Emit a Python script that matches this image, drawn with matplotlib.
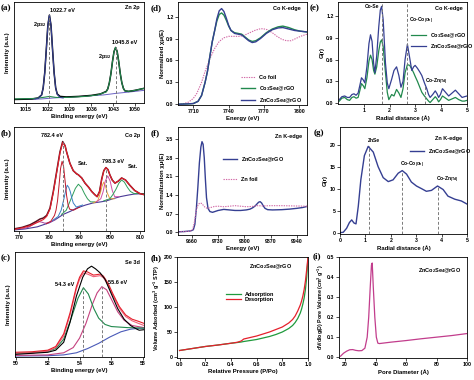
import matplotlib
matplotlib.use('Agg')
import matplotlib.pyplot as plt

plt.rcParams['font.family'] = ['Liberation Sans', 'DejaVu Sans']
plt.rcParams['font.weight'] = 'bold'
plt.rcParams['axes.labelweight'] = 'bold'
plt.rcParams['mathtext.fontset'] = 'custom'
plt.rcParams['mathtext.rm'] = 'Liberation Sans:bold'
plt.rcParams['mathtext.it'] = 'Liberation Sans:bold:italic'
plt.rcParams['mathtext.bf'] = 'Liberation Sans:bold'
plt.rcParams['mathtext.default'] = 'rm'
plt.rcParams['axes.linewidth'] = 0.6

# ---- (a) Zn 2p XPS ----
a_x = [1011.3, 1014, 1017, 1019, 1020.1, 1020.6, 1021.1, 1021.6, 1022.1, 1022.6, 1023.1,
       1023.6, 1024.1, 1024.6, 1025.1, 1026, 1028, 1032, 1036, 1039, 1040.8, 1041.3,
       1041.8, 1042.3, 1042.8, 1043.3, 1043.8, 1044.3, 1044.8, 1045.3, 1045.8, 1046.3,
       1046.8, 1048, 1050, 1052.9]
a_data = [0.035, 0.037, 0.04, 0.05, 0.08, 0.15, 0.30, 0.53, 0.77, 0.87, 0.77,
          0.53, 0.30, 0.15, 0.09, 0.065, 0.06, 0.065, 0.075, 0.09, 0.115, 0.14,
          0.2, 0.29, 0.41, 0.51, 0.55, 0.51, 0.41, 0.29, 0.2, 0.145,
          0.12, 0.115, 0.125, 0.145]
a_p1_x = [1018, 1019, 1020.1, 1020.6, 1021.1, 1021.6, 1022.1, 1022.6, 1023.1, 1023.6,
          1024.1, 1024.6, 1025.1, 1026, 1027]
a_p1_y = [0.04, 0.045, 0.08, 0.15, 0.30, 0.53, 0.77, 0.87, 0.77, 0.53, 0.30, 0.15,
          0.085, 0.055, 0.05]
a_p2_x = [1011.3, 1018, 1020.5, 1022.6, 1024.7, 1028, 1034, 1038, 1040.8, 1041.3, 1041.8,
          1042.3, 1042.8, 1043.3, 1043.8, 1044.3, 1044.8, 1045.3, 1045.8, 1046.3, 1046.8,
          1048, 1050, 1052.9]
a_p2_y = [0.04, 0.045, 0.055, 0.065, 0.055, 0.055, 0.065, 0.08, 0.11, 0.14, 0.2,
          0.29, 0.41, 0.51, 0.55, 0.51, 0.41, 0.29, 0.2, 0.145, 0.12,
          0.115, 0.125, 0.145]
a_bg_x = [1011.3, 1020, 1024, 1030, 1040, 1043.8, 1047, 1052.9]
a_bg_y = [0.035, 0.04, 0.05, 0.06, 0.08, 0.095, 0.105, 0.125]
a_ticks = [1015, 1022, 1029, 1036, 1043, 1050]

# ---- (b) Co 2p XPS ----
b_x = [768.3, 771, 773.6, 775.5, 776.9, 778, 779.1, 780.2, 781.3, 782.4, 783.5, 784.4,
       785.2, 785.7, 786.8, 787.9, 789.0, 789.6, 790.7, 791.8, 793, 794, 795, 795.8,
       796.6, 797.3, 798, 798.7, 799.4, 800, 800.8, 801.7, 802.8, 803.9, 805.2, 806.6,
       808.2, 809.9, 811.3]
b_data = [0.02, 0.035, 0.06, 0.09, 0.115, 0.125, 0.15, 0.22, 0.38, 0.57, 0.76, 0.86,
          0.82, 0.76, 0.65, 0.58, 0.55, 0.54, 0.51, 0.46, 0.42, 0.38, 0.35, 0.33,
          0.38, 0.50, 0.58, 0.61, 0.59, 0.54, 0.49, 0.46, 0.48, 0.51, 0.49, 0.44,
          0.39, 0.36, 0.35]
b_fit = [0.015, 0.03, 0.05, 0.075, 0.095, 0.11, 0.14, 0.21, 0.37, 0.56, 0.75, 0.85,
         0.82, 0.76, 0.65, 0.58, 0.55, 0.54, 0.51, 0.46, 0.42, 0.38, 0.35, 0.33,
         0.38, 0.49, 0.58, 0.61, 0.59, 0.54, 0.49, 0.46, 0.48, 0.51, 0.49, 0.44,
         0.39, 0.36, 0.35]
b_bg_x = [768.3, 772, 776, 778, 780, 782, 784.6, 787, 789, 792, 794.5, 797, 798.9, 801,
          803.4, 806, 808, 811.3]
b_bg_y = [0.01, 0.02, 0.04, 0.06, 0.08, 0.11, 0.16, 0.19, 0.22, 0.25, 0.27, 0.28, 0.29,
          0.31, 0.33, 0.345, 0.355, 0.36]
b_c1_x = [779, 780.5, 781.7, 782.2, 782.7, 783.2, 783.7, 784.2, 784.7, 785.2, 785.7,
          786.2, 786.7, 788, 790]
b_c1_y = [0.07, 0.095, 0.15, 0.2, 0.29, 0.44, 0.6, 0.67, 0.62, 0.48, 0.34, 0.25, 0.21,
          0.2, 0.23]
b_c2_x = [781, 782.9, 783.9, 784.4, 784.9, 785.4, 785.9, 786.4, 786.9, 787.4, 787.9,
          788.9, 791]
b_c2_y = [0.1, 0.14, 0.2, 0.26, 0.32, 0.39, 0.44, 0.42, 0.38, 0.32, 0.27, 0.23, 0.25]
b_c3_x = [784, 785.6, 786.6, 787.6, 788.6, 789.6, 790.6, 791.6, 792.6, 793.6, 795]
b_c3_y = [0.16, 0.2, 0.27, 0.34, 0.41, 0.45, 0.42, 0.36, 0.31, 0.28, 0.28]
b_c4_x = [771, 773, 774.5, 775.5, 776.5, 777.5, 778.5, 780, 782]
b_c4_y = [0.02, 0.035, 0.06, 0.08, 0.09, 0.085, 0.075, 0.08, 0.11]
b_c5_x = [794.5, 796, 796.9, 797.4, 798.0, 798.6, 799.1, 800, 801.5]
b_c5_y = [0.27, 0.29, 0.37, 0.43, 0.47, 0.43, 0.37, 0.31, 0.31]
b_c6_x = [795.5, 797, 797.8, 798.5, 799.3, 800.1, 800.8, 801.6, 803]
b_c6_y = [0.28, 0.31, 0.38, 0.48, 0.53, 0.48, 0.39, 0.33, 0.33]
b_c7_x = [798, 800, 801, 802, 803, 803.9, 804.8, 805.8, 806.8, 808, 810, 811.3]
b_c7_y = [0.29, 0.31, 0.35, 0.40, 0.46, 0.49, 0.47, 0.42, 0.38, 0.36, 0.36, 0.36]
b_ticks = [770, 780, 790, 800, 810]

# ---- (c) Se 3d XPS ----
c_blk_x = [49.94, 51, 52, 52.5, 53, 53.4, 53.8, 54.2, 54.5, 54.75, 55.0, 55.3, 55.6,
           56.0, 56.4, 56.8, 57.2, 57.6, 57.75, 58.05]
c_blk_y = [0.025, 0.035, 0.045, 0.065, 0.14, 0.33, 0.58, 0.76, 0.84, 0.865, 0.84, 0.8,
           0.74, 0.6, 0.46, 0.36, 0.3, 0.265, 0.255, 0.26]
c_red_x = [49.94, 51, 52, 52.5, 53, 53.4, 53.8, 54.0, 54.24, 54.5, 54.87, 55.1, 55.3,
           55.5, 55.8, 56.1, 56.5, 56.9, 57.3, 57.7, 58.05]
c_red_y = [0.045, 0.05, 0.065, 0.1, 0.22, 0.42, 0.67, 0.76, 0.82, 0.81, 0.78, 0.785,
           0.79, 0.77, 0.7, 0.6, 0.48, 0.4, 0.36, 0.34, 0.32]
c_red2_y = [0.035, 0.04, 0.055, 0.09, 0.2, 0.4, 0.65, 0.74, 0.8, 0.79, 0.765, 0.77,
            0.775, 0.755, 0.685, 0.585, 0.465, 0.385, 0.345, 0.32, 0.30]
c_grn_x = [49.94, 51, 52, 52.5, 53, 53.5, 53.9, 54.24, 54.55, 54.9, 55.2, 55.6, 56, 57,
           58.05]
c_grn_y = [0.035, 0.04, 0.055, 0.08, 0.17, 0.38, 0.56, 0.66, 0.6, 0.46, 0.37, 0.31,
           0.29, 0.28, 0.275]
c_mag_x = [49.94, 52, 53, 53.6, 54.0, 54.4, 54.8, 55.1, 55.4, 55.7, 56.0, 56.4, 56.8,
           57.3, 58.05]
c_mag_y = [0.015, 0.02, 0.04, 0.09, 0.18, 0.32, 0.5, 0.61, 0.67, 0.64, 0.55, 0.43,
           0.35, 0.3, 0.28]
c_bg_x = [49.94, 52, 53, 53.8, 54.5, 55.2, 55.9, 56.6, 57.2, 57.8, 58.05]
c_bg_y = [0.01, 0.012, 0.02, 0.04, 0.08, 0.13, 0.19, 0.24, 0.265, 0.275, 0.275]
c_ticks = [50, 52, 54, 56, 58]

# ---- (d) Co K-edge XANES ----
d_x = [7697, 7705, 7710, 7714, 7717, 7720, 7722, 7724, 7726, 7728, 7730, 7732, 7734,
       7736, 7738, 7740, 7742, 7745, 7748, 7751, 7754, 7757, 7760, 7763, 7767, 7772,
       7777, 7782, 7786, 7791, 7796, 7801, 7806.5]
d_znco = [0.0, 0.005, 0.01, 0.04, 0.12, 0.3, 0.45, 0.65, 0.85, 1.0, 1.17, 1.28, 1.31,
          1.27, 1.18, 1.08, 1.01, 0.97, 0.96, 0.95, 0.91, 0.87, 0.845, 0.855, 0.9, 0.97,
          1.02, 1.045, 1.05, 1.03, 1.01, 1.0, 0.99]
d_co3 = [0.0, 0.005, 0.01, 0.04, 0.12, 0.3, 0.45, 0.65, 0.85, 1.0, 1.14, 1.23, 1.25,
         1.22, 1.15, 1.07, 1.01, 0.98, 0.97, 0.96, 0.92, 0.88, 0.86, 0.87, 0.91, 0.98,
         1.03, 1.06, 1.07, 1.05, 1.02, 1.0, 0.99]
d_foil_x = [7697, 7702, 7706, 7710, 7713, 7717, 7720, 7724, 7728, 7732, 7736, 7740,
            7746, 7750, 7754, 7758, 7762, 7766, 7769, 7773, 7777, 7781, 7785, 7789,
            7793, 7797, 7801, 7806.5]
d_foil = [0.0, 0.01, 0.03, 0.08, 0.15, 0.3, 0.45, 0.62, 0.76, 0.86, 0.91, 0.93, 0.93,
          0.93, 0.95, 0.98, 1.01, 1.03, 1.035, 1.02, 0.98, 0.93, 0.89, 0.87, 0.87, 0.9,
          0.93, 0.96]
d_ticks = [7710, 7740, 7770, 7800]

# ---- (e) Co K-edge FT ----
e_x = [0.05, 0.15, 0.26, 0.36, 0.45, 0.54, 0.62, 0.7, 0.78, 0.85, 0.91, 0.98, 1.04, 1.12,
       1.2, 1.26, 1.32, 1.38, 1.43, 1.5, 1.58, 1.64, 1.69, 1.75, 1.84, 1.91, 1.97, 2.08,
       2.17, 2.27, 2.36, 2.44, 2.52, 2.6, 2.69, 2.78, 2.86, 2.93, 2.99, 3.08, 3.17, 3.25,
       3.35, 3.44, 3.51, 3.57, 3.67, 3.77, 3.84, 3.9, 3.97, 4.05, 4.17, 4.29, 4.42, 4.55,
       4.68, 4.81, 4.9, 5.0]
e_znco = [0.05, 0.09, 0.10, 0.08, 0.08, 0.12, 0.13, 0.11, 0.14, 0.25, 0.35, 0.32, 0.28,
          0.5, 0.82, 0.94, 0.85, 0.55, 0.42, 0.65, 1.05, 1.28, 1.33, 1.15, 0.55, 0.28,
          0.2, 0.33, 0.45, 0.5, 0.38, 0.22, 0.3, 0.6, 0.81, 0.62, 0.45, 0.5, 0.52, 0.48,
          0.43, 0.38, 0.28, 0.2, 0.12, 0.08, 0.12, 0.17, 0.13, 0.08, 0.12, 0.2, 0.15, 0.1,
          0.14, 0.18, 0.13, 0.08, 0.09, 0.1]
e_co3 = [0.03, 0.07, 0.08, 0.05, 0.04, 0.08, 0.09, 0.07, 0.08, 0.18, 0.27, 0.24, 0.2,
         0.35, 0.58, 0.66, 0.6, 0.45, 0.4, 0.5, 0.72, 0.84, 0.87, 0.78, 0.42, 0.15, 0.05,
         0.12, 0.1, 0.19, 0.14, 0.08, 0.2, 0.42, 0.53, 0.52, 0.47, 0.42, 0.37, 0.3, 0.22,
         0.15, 0.1, 0.06, 0.03, 0.01, 0.05, 0.09, 0.06, 0.02, 0.05, 0.1, 0.07, 0.04, 0.06,
         0.08, 0.05, 0.03, 0.03, 0.04]

# ---- (f) Zn K-edge XANES ----
f_x = [9623, 9640, 9655, 9660, 9664, 9668, 9672, 9676, 9680, 9684, 9687, 9690, 9693,
       9696, 9699, 9703, 9708, 9715, 9730, 9745, 9760, 9775, 9790, 9805, 9815, 9822,
       9828, 9834, 9838, 9842, 9846, 9850, 9855, 9862, 9875, 9900, 9920, 9940, 9955,
       9967]
f_znco = [0.02, 0.03, 0.05, 0.07, 0.1, 0.3, 0.9, 1.7, 2.6, 3.2, 3.4, 3.3, 2.8, 2.0,
          1.3, 0.9, 0.78, 0.75, 0.82, 0.86, 0.84, 0.82, 0.82, 0.84, 0.87, 0.92, 0.98,
          1.07, 1.13, 1.15, 1.1, 1.0, 0.9, 0.85, 0.84, 0.85, 0.87, 0.9, 0.93, 0.97]
f_foil_x = [9623, 9655, 9662, 9667, 9672, 9677, 9682, 9687, 9692, 9697, 9702, 9710,
            9720, 9730, 9745, 9760, 9775, 9790, 9805, 9820, 9835, 9850, 9870, 9900,
            9930, 9967]
f_foil = [0.02, 0.04, 0.1, 0.4, 0.85, 1.05, 1.1, 1.08, 0.98, 0.92, 0.9, 0.93, 0.97,
          0.98, 0.96, 0.98, 1.0, 0.98, 0.96, 0.97, 1.0, 0.99, 1.0, 1.0, 0.99, 0.98]
f_ticks = [9660, 9730, 9800, 9870, 9940]
f_yticks = [0.0, 0.7, 1.4, 2.1, 2.8, 3.5]

# ---- (g) Zn K-edge FT ----
g_x = [0.0, 0.13, 0.26, 0.37, 0.46, 0.55, 0.63, 0.72, 0.82, 0.96, 1.11, 1.31, 1.5, 1.7,
       1.9, 2.09, 2.29, 2.45, 2.62, 2.81, 3.01, 3.21, 3.4, 3.6, 3.84, 4.06, 4.25, 4.52,
       4.78, 5.0]
g_y = [0.0, 0.1, 1.0, 2.3, 2.9, 2.2, 2.0, 6.0, 12.0, 17.5, 19.6, 18.3, 15.0, 12.5,
       11.6, 12.0, 13.5, 14.1, 13.3, 11.5, 10.6, 10.0, 9.4, 9.6, 10.6, 9.8, 8.3, 7.6,
       7.2, 6.5]

# ---- (h) N2 isotherm ----
h_x = [0.0, 0.05, 0.1, 0.2, 0.3, 0.4, 0.45, 0.48, 0.5, 0.55, 0.6, 0.65, 0.7, 0.75, 0.8,
       0.85, 0.88, 0.9, 0.92, 0.94, 0.95, 0.96, 0.97, 0.98, 0.99, 1.0]
h_ads = [13, 15, 17, 21, 24, 27.5, 29, 30, 31, 33, 35, 38, 41, 45, 50, 57, 63, 69, 77,
         88, 96, 106, 118, 135, 160, 200]
h_des = [13, 15, 17, 21, 24, 27.5, 29.5, 32, 36, 39, 42, 46, 50, 55, 60, 68, 75, 82, 92,
         104, 112, 122, 135, 152, 175, 200]

# ---- (i) pore size distribution ----
i_x = [17, 19, 21, 23, 25, 27, 29, 31, 33, 34.5, 35.5, 36.5, 37.3, 37.8, 38.5, 39.5,
       40.5, 41.5, 42.5, 50, 60, 70, 80, 90, 100]
i_y = [0.005, 0.02, 0.03, 0.037, 0.038, 0.034, 0.032, 0.033, 0.045, 0.1, 0.2, 0.35,
       0.46, 0.47, 0.35, 0.2, 0.1, 0.07, 0.068, 0.075, 0.083, 0.092, 0.1, 0.108, 0.118]

NAVY = '#353f92'
GREEN = '#21894d'
PINK = '#d26aa6'
RED = '#e5202c'
MAROON = '#5a1020'
GREY = '#7a7a7a'
TK = 3.8
LB = 4.3
TX = 4.0

W, H = 474, 380
fig = plt.figure(figsize=(W / 100, H / 100), dpi=100)


def box(x0, y0, x1, y1):
    ax = fig.add_axes([x0 / W, 1 - y1 / H, (x1 - x0) / W, (y1 - y0) / H])
    ax.tick_params(direction='out', length=2, width=0.5, pad=1.2, labelsize=TK)
    return ax


def dash(ax, x, y0, y1):
    ax.vlines(x, y0, y1, colors=GREY, linestyles=(0, (3, 2)), lw=0.7)


def labels(ax, xl, yl, xpad=1, ypad=1, ysize=LB):
    ax.set_xlabel(xl, fontsize=LB, labelpad=xpad)
    ax.set_ylabel(yl, fontsize=ysize, labelpad=ypad)


def legend(ax, anchor, spacing, loc='upper left'):
    ax.legend(loc=loc, bbox_to_anchor=anchor, frameon=False, fontsize=TX,
              handlelength=2.6, handletextpad=0.7, labelspacing=spacing,
              borderaxespad=0)


# (a)
ax = box(14, 2, 144, 103)
ax.plot(a_bg_x, a_bg_y, color='#6b63c4', lw=0.7)
ax.plot(a_x, a_data, color='black', lw=1.1)
ax.plot(a_p2_x, a_p2_y, color=GREEN, lw=0.8)
ax.plot(a_p1_x, a_p1_y, color=NAVY, lw=0.8)
dash(ax, 1022.6, 0, 0.87)
dash(ax, 1043.8, 0, 0.55)
ax.set_xlim(1011.25, 1052.9)
ax.set_ylim(0, 1)
ax.set_xticks(a_ticks)
ax.set_yticks([])
ax.text(1022.9, 0.9, '1022.7 eV', fontsize=TX)
ax.text(1021.6, 0.76, '2p$_{3/2}$', fontsize=TX, ha='right')
ax.text(1042.5, 0.58, '1045.8 eV', fontsize=TX)
ax.text(1042.4, 0.45, '2p$_{1/2}$', fontsize=TX, ha='right')
ax.text(0.97, 0.93, 'Zn 2p', fontsize=TX, ha='right', transform=ax.transAxes)
labels(ax, 'Binding energy (eV)', 'Intensity (a.u.)', ypad=3)

# (b)
ax = box(14, 127, 144, 231)
ax.plot(b_bg_x, b_bg_y, color='#4a3a96', lw=0.8)
ax.plot(b_c4_x, b_c4_y, color='#a8479b', lw=0.7)
ax.plot(b_c3_x, b_c3_y, color='#2f9e5b', lw=0.7)
ax.plot(b_c2_x, b_c2_y, color='#3a7fc4', lw=0.7)
ax.plot(b_c1_x, b_c1_y, color='#c0182a', lw=0.7)
ax.plot(b_c5_x, b_c5_y, color='#e8a23a', lw=0.7)
ax.plot(b_c6_x, b_c6_y, color='#d04fa6', lw=0.7)
ax.plot(b_c7_x, b_c7_y, color='#2f9e5b', lw=0.7)
ax.plot(b_x, b_data, color=MAROON, lw=1.1)
ax.plot(b_x, b_fit, color=RED, lw=0.8)
dash(ax, 784.4, 0, 0.86)
dash(ax, 798.8, 0, 0.6)
ax.set_xlim(768.3, 811.3)
ax.set_ylim(0, 1)
ax.set_xticks(b_ticks)
ax.set_yticks([])
ax.text(780.9, 0.9, '782.4 eV', fontsize=TX, ha='center')
ax.text(789.5, 0.63, 'Sat.', fontsize=TX)
ax.text(797.4, 0.65, '798.3 eV', fontsize=TX)
ax.text(806, 0.61, 'Sat.', fontsize=TX)
ax.text(0.97, 0.9, 'Co 2p', fontsize=TX, ha='right', transform=ax.transAxes)
labels(ax, 'Binding energy (eV)', 'Intensity (a.u.)', ypad=3)

# (c)
ax = box(15, 252, 144, 357)
ax.plot(c_bg_x, c_bg_y, color='#4a5ab8', lw=0.8)
ax.plot(c_mag_x, c_mag_y, color='#c4417f', lw=0.8)
ax.plot(c_grn_x, c_grn_y, color=GREEN, lw=0.8)
ax.plot(c_red_x, c_red2_y, color='#f0607a', lw=0.8)
ax.plot(c_red_x, c_red_y, color=RED, lw=0.8)
ax.plot(c_blk_x, c_blk_y, color='black', lw=0.8)
dash(ax, 54.23, 0, 0.66)
dash(ax, 55.38, 0, 0.67)
ax.set_xlim(49.94, 58.05)
ax.set_ylim(0, 1)
ax.set_xticks(c_ticks)
ax.set_yticks([])
ax.text(52.45, 0.68, '54.3 eV', fontsize=TX)
ax.text(55.8, 0.7, '55.6 eV', fontsize=TX)
ax.text(0.97, 0.89, 'Se 3d', fontsize=TX, ha='right', transform=ax.transAxes)
labels(ax, 'Binding energy (eV)', 'Intensity (a.u.)', ypad=3)

# (d)
ax = box(178, 2, 307, 105)
ax.plot(d_foil_x, d_foil, color=PINK, lw=0.8, ls=(0, (1.2, 1)), label='Co foil')
ax.plot(d_x, d_co3, color=GREEN, lw=1.0, label='Co$_3$Se$_4$@rGO')
ax.plot(d_x, d_znco, color=NAVY, lw=1.0, label='ZnCo$_2$Se$_4$@rGO')
ax.set_xlim(7697, 7806.5)
ax.set_ylim(-0.01, 1.40)
ax.set_xticks(d_ticks)
ax.set_yticks([0.0, 0.3, 0.6, 0.9, 1.2])
ax.set_yticklabels(['0.0', '0.3', '0.6', '0.9', '1.2'])
ax.text(0.95, 0.92, 'Co K-edge', fontsize=TX, ha='right', transform=ax.transAxes)
legend(ax, (0.47, 0.31), 0.65)
labels(ax, 'Energy (eV)', r'Normalized χμ(E)')

# (e)
ax = box(338, 2, 467, 104)
ax.plot(e_x, e_co3, color=GREEN, lw=0.9, label='Co$_3$Se$_4$@rGO')
ax.plot(e_x, e_znco, color=NAVY, lw=0.9, label='ZnCo$_2$Se$_4$@rGO')
dash(ax, 1.69, -0.01, 1.39)
dash(ax, 2.69, -0.01, 1.39)
dash(ax, 3.38, -0.01, 0.25)
ax.set_xlim(0, 5)
ax.set_ylim(-0.01, 1.39)
ax.set_xticks([1, 2, 3, 4, 5])
ax.set_yticks([0.0, 0.3, 0.6, 0.9, 1.2])
ax.set_yticklabels(['0.0', '0.3', '0.6', '0.9', '1.2'])
ax.text(1.02, 1.31, 'Co-Se', fontsize=3.6)
ax.text(2.74, 1.12, 'Co-Co$_{(Oh)}$', fontsize=3.6)
ax.text(3.38, 0.27, 'Co-Zn$_{(Td)}$', fontsize=3.6)
ax.text(0.97, 0.92, 'Co K-edge', fontsize=TX, ha='right', transform=ax.transAxes)
legend(ax, (0.55, 0.74), 0.5)
labels(ax, 'Radial distance (Å)', 'G(r)')

# (f)
ax = box(178, 127, 307, 235)
ax.plot(f_x, f_znco, color=NAVY, lw=1.0, label='ZnCo$_2$Se$_4$@rGO')
ax.plot(f_foil_x, f_foil, color=PINK, lw=0.8, ls=(0, (1.2, 1)), label='Zn foil')
ax.set_xlim(9623, 9967)
ax.set_ylim(-0.1, 3.95)
ax.set_xticks(f_ticks)
ax.set_yticks(f_yticks)
ax.set_yticklabels(['0.0', '0.7', '1.4', '2.1', '2.8', '3.5'])
ax.text(0.96, 0.9, 'Zn K-edge', fontsize=TX, ha='right', transform=ax.transAxes)
legend(ax, (0.33, 0.76), 2.4)
labels(ax, 'Energy (eV)', r'Normalization χμ(E)')

# (g)
ax = box(340, 127, 467, 234)
ax.plot(g_x, g_y, color=NAVY, lw=1.0, label='ZnCo$_2$Se$_4$@rGO')
dash(ax, 1.13, -0.3, 19.6)
dash(ax, 2.45, -0.3, 14.1)
dash(ax, 3.84, -0.3, 10.6)
ax.set_xlim(0, 5)
ax.set_ylim(-0.3, 24)
ax.set_xticks([0, 1, 2, 3, 4, 5])
ax.set_yticks([0, 5, 10, 15, 20])
ax.text(1.1, 20.5, 'ZnSe', fontsize=3.6)
ax.text(2.36, 15.2, 'Co-Co$_{(Oh)}$', fontsize=3.6)
ax.text(3.78, 11.8, 'Co-Zn$_{(Td)}$', fontsize=3.6)
ax.text(0.96, 0.88, 'Zn K-edge', fontsize=TX, ha='right', transform=ax.transAxes)
legend(ax, (0.53, 0.83), 1.0)
labels(ax, 'Radial distance (Å)', 'G(r)')

# (h)
ax = box(177, 257, 308, 358)
ax.plot(h_x, h_ads, color='#1f9a3c', lw=0.9, label='Adsorption')
ax.plot(h_x, h_des, color=RED, lw=0.9, label='Desorption')
ax.set_xlim(-0.02, 1.0)
ax.set_ylim(-2, 200)
ax.set_xticks([0.0, 0.2, 0.4, 0.6, 0.8, 1.0])
ax.set_yticks([0, 50, 100, 150, 200])
ax.text(0.54, 178, 'ZnCo$_2$Se$_4$@rGO', fontsize=TX)
legend(ax, (0.36, 0.68), 0.1)
labels(ax, 'Relative Pressure (P/Po)', 'Volume Adsorbed (cm$^3$ g$^{-1}$ STP)',
       ysize=4.0)

# (i)
ax = box(339, 257, 467, 358)
ax.plot(i_x, i_y, color='#c23d8c', lw=0.9)
ax.set_xlim(16, 100)
ax.set_ylim(-0.004, 0.5)
ax.set_xticks([20, 40, 60, 80, 100])
ax.set_yticks([0.0, 0.1, 0.2, 0.3, 0.4, 0.5])
ax.text(68, 0.425, 'ZnCo$_2$Se$_4$@rGO', fontsize=TX)
labels(ax, 'Pore Diameter (Å)', 'dV/dlog(D) Pore Volume (cm$^3$ g$^{-1}$)', ysize=3.8)

# panel letters
for lab, px, py in [('(a)', 1, 8), ('(d)', 151, 8), ('(e)', 310, 8),
                    ('(b)', 1, 133), ('(f)', 151, 133), ('(g)', 314, 133),
                    ('(c)', 1, 258), ('(h)', 151, 258), ('(i)', 313, 256)]:
    fig.text(px / W, 1 - py / H, lab, fontsize=6.5, fontweight='bold',
             family='Liberation Serif', va='center')

fig.savefig('out.png', dpi=100)
